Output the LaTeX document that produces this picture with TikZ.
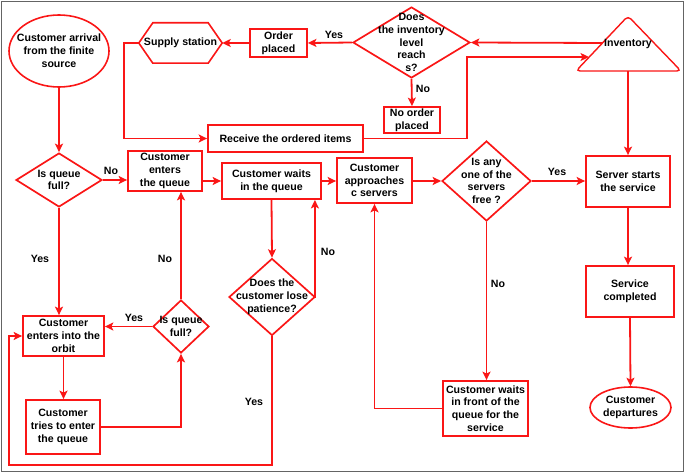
\documentclass[tikz,border=0pt]{standalone}
\usepackage{fontspec}
\setmainfont{Liberation Sans}
\usetikzlibrary{shapes.geometric,arrows.meta}
\definecolor{lr}{RGB}{250,22,22}
\definecolor{frame}{RGB}{100,100,100}
\tikzset{
  base/.style={font=\fontsize{10.6}{12.8}\selectfont\bfseries, text=black},
  box/.style={base, draw=lr, line width=1.8pt, rectangle, inner sep=0pt, align=center},
  ell/.style={draw=lr, line width=1.6pt, ellipse, inner sep=0pt},
  dia/.style={draw=lr, line width=1.7pt, diamond, inner sep=0pt},
  lbl/.style={base, align=center, inner sep=0pt},
  conn/.style={draw=lr, line width=1.8pt, -{Stealth[length=8.5pt,width=8pt,inset=2pt]}},
  plain/.style={draw=lr, line width=1.6pt},
  tag/.style={base, inner sep=0pt}
}
\begin{document}
\begin{tikzpicture}[x=1pt,y=-1pt]
\useasboundingbox (0,0) rectangle (685,473);
\draw[frame, line width=1.4pt] (1.5,1.5) rectangle (683.5,471.5);

% top row
\node[ell, minimum width=100pt, minimum height=72pt, label={[lbl]center:{Customer arrival\\from the finite\\source}}] (arr) at (59,51) {};
\node[lbl, minimum width=83pt, minimum height=40pt] (sup) at (180.5,43) {Supply station};
\draw[plain] (sup.west) -- ([xshift=14pt]sup.north west) -- ([xshift=-14pt]sup.north east) -- (sup.east) -- ([xshift=-14pt]sup.south east) -- ([xshift=14pt]sup.south west) -- cycle;
\node[box, minimum width=57pt, minimum height=28pt] (order) at (278.5,43) {Order\\placed};
\node[dia, minimum width=117pt, minimum height=71pt, label={[lbl]center:{Does\\the inventory\\level\\reach\\s?}}] (dinv) at (411.5,42.5) {};
\node[box, minimum width=56pt, minimum height=26pt] (noord) at (412,120) {No order\\placed};
\draw[plain, line width=1.4pt, rounded corners=4pt] (628,71) -- (576,71) -- (628,16) -- (681,71) -- cycle;
\node[tag] (inv) at (628,44) {Inventory};
\coordinate (invL) at (602.5,43);
\coordinate (invIn) at (589,57);
\coordinate (invB) at (628,71);
\node[box, minimum width=155pt, minimum height=27pt] (recv) at (285.5,138.5) {Receive the ordered items};
\coordinate (rc) at (467,57);

% middle row
\node[dia, minimum width=86pt, minimum height=54pt, label={[lbl]center:{Is queue\\full?}}] (d1) at (59,180) {};
\node[box, minimum width=74pt, minimum height=40pt] (enter) at (165,171) {Customer\\enters\\the queue};
\node[box, minimum width=99pt, minimum height=36pt] (waits) at (271.5,181) {Customer waits\\in the queue};
\node[box, minimum width=75pt, minimum height=45pt] (appr) at (374.5,180.5) {Customer\\approaches\\c servers};
\node[dia, minimum width=89pt, minimum height=80pt, label={[lbl]center:{Is any\\one of the\\servers\\free ?}}] (free) at (486.5,181) {};
\node[box, minimum width=84pt, minimum height=51pt] (server) at (628,181.5) {Server starts\\the service};
\node[box, minimum width=88pt, minimum height=51pt] (done) at (630,291.5) {Service\\completed};
\node[ell, minimum width=81pt, minimum height=41pt, label={[lbl]center:{Customer\\departures}}] (dep) at (630.5,407.5) {};
\node[box, minimum width=85pt, minimum height=55pt] (wfront) at (485.5,408.5) {Customer waits\\in front of the\\queue for the\\service};

% lower left
\node[dia, minimum width=86pt, minimum height=77pt, label={[lbl]center:{Does the\\customer lose\\patience?}}] (lose) at (272,297) {};
\node[box, minimum width=81pt, minimum height=40pt] (orbit) at (63.5,336) {Customer\\enters into the\\orbit};
\node[dia, minimum width=56pt, minimum height=53pt, label={[lbl]center:{Is queue\\full?}}] (d2) at (181,326.5) {};
\node[box, minimum width=74pt, minimum height=54pt] (tries) at (63,427) {Customer\\tries to enter\\the queue};
\coordinate (lb) at (9,465);

% labels
\node[tag] (tYes1) at (334,35) {Yes};
\node[tag] (tNo1) at (423,89) {No};
\node[tag] (tNo2) at (111,171) {No};
\node[tag] (tYes2) at (40,259) {Yes};
\node[tag] (tNo3) at (165,259) {No};
\node[tag] (tYes3) at (134,318) {Yes};
\node[tag] (tNo4) at (328,252) {No};
\node[tag] (tYes4) at (254,402) {Yes};
\node[tag] (tYes5) at (557,172) {Yes};
\node[tag] (tNo5) at (498,284) {No};

% connectors
\draw[conn] (arr.south) -- (d1.north);
\draw[conn] (d1.east) -- (d1.east -| enter.west);
\draw[conn] (enter.east |- waits.west) -- (waits.west);
\draw[conn] (waits.east) -- (waits.east -| appr.west);
\draw[conn] (appr.east |- free.west) -- (free.west);
\draw[conn] (free.east) -- (free.east -| server.west);
\draw[conn] (invB) -- (server.north);
\draw[conn] (server.south) -- (server.south |- done.north);
\draw[conn] (done.south) -- (dep.north);
\draw[conn] (free.south) -- (free.south |- wfront.north);
\draw[conn] (wfront.west) -| (appr.south);
\draw[conn] (waits.south) -- (lose.north);
\draw[conn] (lose.east) -| ([xshift=-7pt]waits.south east);
\draw[conn] (lose.south) |- (lb) -- (lb |- orbit.west) -- (orbit.west);
\draw[conn] (d1.south) -- (d1.south |- orbit.north);
\draw[conn] (d2.west) -- (d2.west -| orbit.east);
\draw[conn] (d2.north) -- (d2.north |- enter.south);
\draw[conn] (orbit.south) -- (orbit.south |- tries.north);
\draw[conn] (tries.east) -| (d2.south);
\draw[conn] (sup.west) -- ++(-15,0) |- (recv.west);
\draw[conn] (recv.east) -| (rc) -- (invIn);
\draw[conn] (invL) -- (dinv.east);
\draw[conn] (dinv.west) -- (order.east);
\draw[conn] (order.west) -- (sup.east);
\draw[conn] (dinv.south) -- (noord.north);
\end{tikzpicture}
\end{document}
